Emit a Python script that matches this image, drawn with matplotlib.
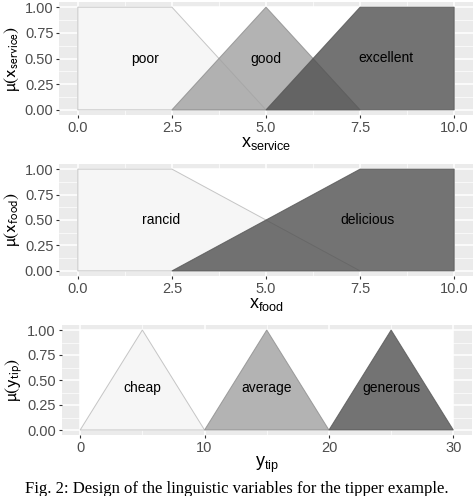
import matplotlib.pyplot as plt
from matplotlib.patches import Rectangle
import numpy as np

plt.rcParams['font.family'] = ['Liberation Sans', 'DejaVu Sans']
plt.rcParams['mathtext.fontset'] = 'custom'
plt.rcParams['mathtext.rm'] = 'Liberation Sans'
plt.rcParams['mathtext.it'] = 'Liberation Sans'
plt.rcParams['mathtext.bf'] = 'Liberation Sans:bold'

# Data: membership functions (x breakpoints, mu values)
service_terms = ['poor', 'good', 'excellent']
service_x = [[0, 0, 2.5, 5], [2.5, 5, 7.5], [5, 7.5, 10, 10]]
service_mu = [[0, 1, 1, 0], [0, 1, 0], [0, 1, 1, 0]]
service_label_x = [1.8, 5.0, 8.2]
service_label_y = [0.5, 0.5, 0.5]

food_terms = ['rancid', 'delicious']
food_x = [[0, 0, 2.5, 7.5], [2.5, 7.5, 10, 10]]
food_mu = [[0, 1, 1, 0], [0, 1, 1, 0]]
food_label_x = [2.2, 7.7]
food_label_y = [0.5, 0.5]

tip_terms = ['cheap', 'average', 'generous']
tip_x = [[0, 5, 10], [10, 15, 20], [20, 25, 30]]
tip_mu = [[0, 1, 0], [0, 1, 0], [0, 1, 0]]
tip_label_x = [5, 15, 25]
tip_label_y = [0.42, 0.42, 0.42]

y_ticks = [0, 0.25, 0.5, 0.75, 1.0]
y_ticklabels = ['0.00', '0.25', '0.50', '0.75', '1.00']

fills_2 = ['#f4f4f4', '#505050']
fills_3 = ['#f4f4f4', '#a0a0a0', '#505050']
edges_2 = ['#b8b8b8', '#555555']
edges_3 = ['#b8b8b8', '#8c8c8c', '#555555']

caption = 'Fig. 2: Design of the linguistic variables for the tipper example.'

W, H = 474, 496
fig = plt.figure(figsize=(W / 100, H / 100), dpi=100)


def panel(box, xs, mus, terms, lx, ly, fills, edges, xmin, xmax,
          xticks, xticklabels, xminor, xlabel, ylabel):
    l, t, r, b = box
    ax = fig.add_axes([l / W, 1 - b / H, (r - l) / W, (b - t) / H])
    ax.set_facecolor('#ebebeb')
    pad = 0.05 * (xmax - xmin)
    ax.set_xlim(xmin - pad, xmax + pad)
    ax.set_ylim(-0.05, 1.05)
    ax.set_xticks(xticks)
    ax.set_xticklabels(xticklabels)
    ax.set_xticks(xminor, minor=True)
    ax.set_yticks(y_ticks)
    ax.set_yticklabels(y_ticklabels)
    ax.set_yticks([0.125, 0.375, 0.625, 0.875], minor=True)
    ax.set_axisbelow(True)
    ax.grid(which='major', color='white', linewidth=1.1)
    ax.grid(which='minor', color='white', linewidth=0.5)
    ax.tick_params(which='major', length=2.5, width=0.8, color='#333333',
                   labelcolor='#4d4d4d', labelsize=10.5, pad=1.5)
    ax.tick_params(which='minor', length=0)
    for s in ax.spines.values():
        s.set_visible(False)
    ax.add_patch(Rectangle((xmin, 0), xmax - xmin, 1, facecolor='white',
                           edgecolor='none', zorder=1))
    for i in range(len(terms)):
        ax.fill(xs[i], mus[i], facecolor=fills[i], edgecolor=edges[i],
                alpha=0.8, linewidth=0.7, zorder=2 + i)
        ax.text(lx[i], ly[i], terms[i], ha='center', va='center',
                fontsize=10, color='black', zorder=10)
    ax.set_xlabel(xlabel, fontsize=13, labelpad=0)
    ax.set_ylabel(ylabel, fontsize=13, labelpad=2, math_fontfamily='stixsans')
    return ax


panel((59, 2, 473, 115), service_x, service_mu, service_terms,
      service_label_x, service_label_y, fills_3, edges_3, 0, 10,
      [0, 2.5, 5, 7.5, 10], ['0.0', '2.5', '5.0', '7.5', '10.0'],
      [1.25, 3.75, 6.25, 8.75],
      r'$x_{service}$', r'$\mathrm{\mu}\left(\mathrm{x}_{\mathrm{service}}\right)$')

panel((59, 164, 473, 276), food_x, food_mu, food_terms,
      food_label_x, food_label_y, fills_2, edges_2, 0, 10,
      [0, 2.5, 5, 7.5, 10], ['0.0', '2.5', '5.0', '7.5', '10.0'],
      [1.25, 3.75, 6.25, 8.75],
      r'$x_{food}$', r'$\mathrm{\mu}\left(\mathrm{x}_{\mathrm{food}}\right)$')

panel((61.5, 325, 472, 435), tip_x, tip_mu, tip_terms,
      tip_label_x, tip_label_y, fills_3, edges_3, 0, 30,
      [0, 10, 20, 30], ['0', '10', '20', '30'], [5, 15, 25],
      r'$y_{tip}$', r'$\mathrm{\mu}\left(\mathrm{y}_{\mathrm{tip}}\right)$')

fig.text(0.5, 1 - 481 / H, caption, ha='center', va='top',
         family='Liberation Serif', fontsize=12, color='black')

fig.savefig('out.png', dpi=100)
